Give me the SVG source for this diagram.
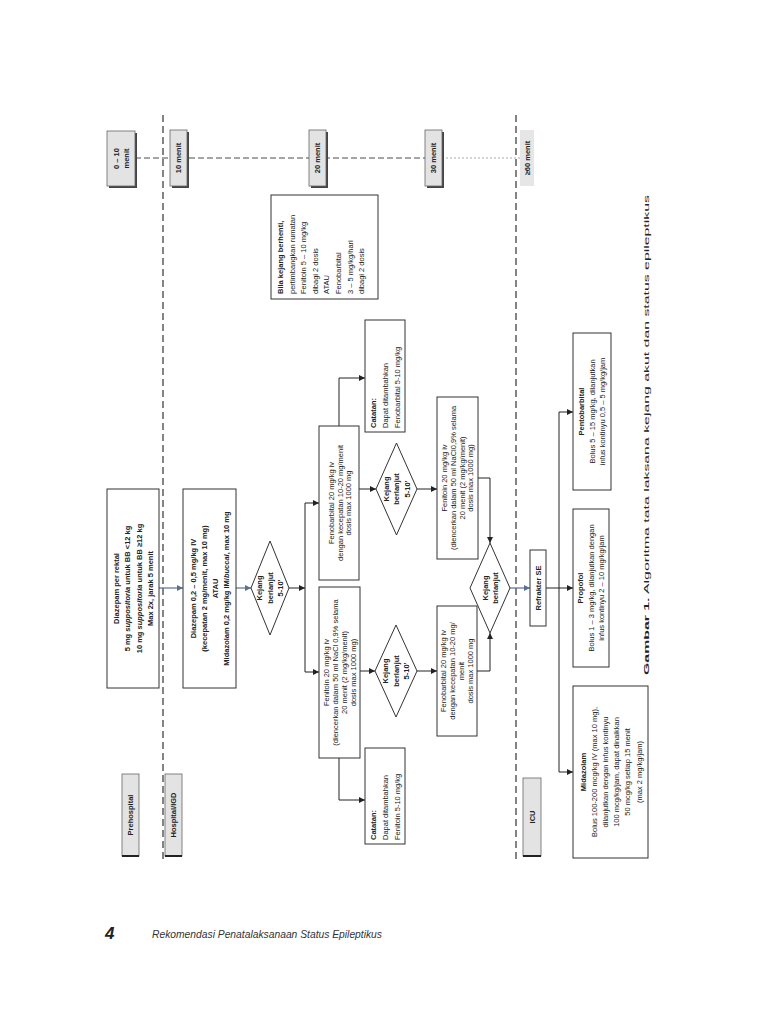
<svg xmlns="http://www.w3.org/2000/svg" width="768" height="1024" viewBox="0 0 768 1024">
<style>
.bx{fill:#fff;stroke:#333;stroke-width:1}
.lb{fill:#e3e3e3;stroke:#666;stroke-width:0.8}
.sh{fill:#444}
.t{font-family:"Liberation Sans",Arial,sans-serif;font-size:7.5px;fill:#222;text-anchor:middle}
.s{text-anchor:start}
.b{font-weight:bold}
.ln{stroke:#222;stroke-width:1;fill:none}
.bl{stroke:#5a7090;stroke-width:1.2;fill:none}
.dv{stroke:#333;stroke-width:1.2;stroke-dasharray:7 4;fill:none}
.dh{stroke:#888;stroke-width:1.6;stroke-dasharray:6 3;fill:none}
.dd{stroke:#aaa;stroke-width:1.2;stroke-dasharray:2 2;fill:none}
</style>
<defs>
<marker id="a" viewBox="0 0 8 8" refX="8" refY="4" markerWidth="6" markerHeight="6" markerUnits="userSpaceOnUse" orient="auto"><path d="M0,0 L8,4 L0,8 z" fill="#222"/></marker>
<marker id="ab" viewBox="0 0 8 8" refX="8" refY="4" markerWidth="6" markerHeight="6" markerUnits="userSpaceOnUse" orient="auto"><path d="M0,0 L8,4 L0,8 z" fill="#5a7090"/></marker>
</defs>
<rect width="768" height="1024" fill="#fff"/>

<g id="lanes">
<line class="dv" x1="163" y1="115" x2="163" y2="862"/>
<line class="dv" x1="516" y1="115" x2="516" y2="862"/>
<line class="dh" x1="135" y1="158" x2="425" y2="158"/>
<line class="dd" x1="442" y1="158" x2="520" y2="158"/>
</g>

<g id="connectors">
<line class="bl" x1="159" y1="588" x2="183" y2="588" marker-end="url(#ab)"/>
<line class="bl" x1="236" y1="588" x2="251" y2="588" marker-end="url(#ab)"/>
<line class="ln" x1="289" y1="588" x2="305" y2="588" marker-end="url(#a)"/>
<line class="ln" x1="305" y1="503" x2="305" y2="672"/>
<line class="ln" x1="305" y1="503" x2="319" y2="503" marker-end="url(#a)"/>
<line class="ln" x1="305" y1="672" x2="319" y2="672" marker-end="url(#a)"/>
<line class="ln" x1="359" y1="489" x2="376" y2="489" marker-end="url(#a)"/>
<line class="ln" x1="417" y1="489" x2="437" y2="489" marker-end="url(#a)"/>
<line class="ln" x1="360" y1="671" x2="375" y2="671" marker-end="url(#a)"/>
<line class="ln" x1="417" y1="671" x2="437" y2="671" marker-end="url(#a)"/>
<polyline class="ln" points="339,426 339,378 365,378" marker-end="url(#a)"/>
<polyline class="ln" points="339,758 339,800 365,800" marker-end="url(#a)"/>
<polyline class="ln" points="478,478 490,478 490,543" marker-end="url(#a)"/>
<polyline class="ln" points="477,671 490,671 490,633" marker-end="url(#a)"/>
<line class="bl" x1="510" y1="588" x2="530" y2="588" marker-end="url(#ab)"/>
<line class="ln" x1="546" y1="588" x2="559" y2="588" stroke-width="1.6"/>
<line class="ln" x1="559" y1="412" x2="559" y2="772" stroke-width="1.4"/>
<line class="ln" x1="559" y1="412" x2="573" y2="412" marker-end="url(#a)"/>
<line class="ln" x1="559" y1="588" x2="573" y2="588" marker-end="url(#a)"/>
<line class="ln" x1="559" y1="772" x2="573" y2="772" marker-end="url(#a)"/>
</g>

<g id="t0">
<rect class="sh" x="109" y="133" width="28" height="55"/>
<rect class="lb" x="107" y="131" width="28" height="55"/>
<text class="t b" font-size="8" transform="translate(121,158.5) rotate(-90)"><tspan x="0" y="-2.2">0 – 10</tspan><tspan x="0" y="7.8">menit</tspan></text>
</g>
<g id="t10">
<rect class="sh" x="172" y="132" width="17" height="56"/>
<rect class="lb" x="170" y="130" width="17" height="56"/>
<text class="t b" font-size="8" transform="translate(178.5,158) rotate(-90)" y="2.8">10 menit</text>
</g>
<g id="t20">
<rect class="sh" x="311" y="132" width="17" height="56"/>
<rect class="lb" x="309" y="130" width="17" height="56"/>
<text class="t b" font-size="8" transform="translate(317.5,158) rotate(-90)" y="2.8">20 menit</text>
</g>
<g id="t30">
<rect class="sh" x="427" y="132" width="17" height="56"/>
<rect class="lb" x="425" y="130" width="17" height="56"/>
<text class="t b" font-size="8" transform="translate(433.5,158) rotate(-90)" y="2.8">30 menit</text>
</g>
<g id="t60">
<rect x="520" y="130" width="14" height="56" fill="#e6e6e6"/>
<text class="t b" font-size="8" transform="translate(527,158) rotate(-90)" y="2.8">≥60 menit</text>
</g>

<g id="prehospital">
<rect class="lb" x="122" y="774" width="17" height="82"/>
<line x1="122" y1="856" x2="139" y2="856" stroke="#222" stroke-width="2"/>
<text class="t b" font-size="8" transform="translate(130.5,815) rotate(-90)" y="2.8">Prehospital</text>
</g>
<g id="hospital">
<rect class="lb" x="165" y="774" width="17" height="82"/>
<line x1="165" y1="856" x2="182" y2="856" stroke="#222" stroke-width="2"/>
<text class="t b" font-size="8" transform="translate(173.5,815) rotate(-90)" y="2.8">Hospital/IGD</text>
</g>
<g id="icu">
<rect class="lb" x="523" y="778" width="18" height="78" fill="#d0d0d0"/>
<line x1="523" y1="856" x2="541" y2="856" stroke="#222" stroke-width="2"/>
<text class="t b" font-size="8" transform="translate(532,817) rotate(-90)" y="2.8">ICU</text>
</g>

<g id="diazepam-rektal">
<rect class="bx" x="107" y="489" width="52" height="199"/>
<text class="t b" font-size="8.5" transform="translate(133,588.5) rotate(-90)"><tspan x="0" y="-13.8">Diazepam per rektal</tspan><tspan x="0" y="-2.6">5 mg <tspan font-style="italic">suppositoria</tspan> untuk BB &lt;12 kg</tspan><tspan x="0" y="8.6">10 mg <tspan font-style="italic">suppositoria</tspan> untuk BB ≥12 kg</tspan><tspan x="0" y="19.8">Max 2x, jarak 5 menit</tspan></text>
</g>

<g id="diazepam-iv">
<rect class="bx" x="183" y="489" width="53" height="199"/>
<text class="t b" font-size="8.3" transform="translate(209.5,588.5) rotate(-90)"><tspan x="0" y="-13.8">Diazepam 0,2 – 0,5 mg/kg IV</tspan><tspan x="0" y="-2.6">(kecepatan 2 mg/menit, max 10 mg)</tspan><tspan x="0" y="8.6">ATAU</tspan><tspan x="0" y="19.8">Midazolam 0,2 mg/kg IM/<tspan font-style="italic">buccal</tspan>, max 10 mg</tspan></text>
</g>

<g id="dec1">
<polygon class="bx" points="251,588 270,541 289,588 270,635"/>
<text class="t b" font-size="8" transform="translate(270,588) rotate(-90)"><tspan x="0" y="-7.7">Kejang</tspan><tspan x="0" y="2.8">berlanjut</tspan><tspan x="0" y="13.3">5-10'</tspan></text>
</g>

<g id="fenobarbital-1">
<rect class="bx" x="319" y="426" width="40" height="154"/>
<text class="t" transform="translate(340,503) rotate(-90)"><tspan x="0" y="-6.2">Fenobarbital 20 mg/kg iv</tspan><tspan x="0" y="2.6">dengan kecepatan 10-20 mg/menit</tspan><tspan x="0" y="11.4">dosis max 1000 mg</tspan></text>
</g>

<g id="fenitoin-1">
<rect class="bx" x="319" y="587" width="41" height="171"/>
<text class="t" transform="translate(340,672.5) rotate(-90)"><tspan x="0" y="-10.6">Fenitoin 20 mg/kg iv</tspan><tspan x="0" y="-1.8">(diencerkan dalam 50 ml NaCl 0,9% selama</tspan><tspan x="0" y="7">20 menit (2 mg/kg/menit)</tspan><tspan x="0" y="15.8">dosis max 1000 mg)</tspan></text>
</g>

<g id="catatan-fb">
<rect class="bx" x="365" y="320" width="40" height="112"/>
<text class="t s" font-size="8.5" transform="translate(385,428) rotate(-90)"><tspan class="b" x="0" y="-9">Catatan:</tspan><tspan x="0" y="3">Dapat ditambahkan</tspan><tspan x="0" y="15">Fenobarbital  5-10 mg/kg</tspan></text>
</g>

<g id="catatan-ft">
<rect class="bx" x="365" y="748" width="40" height="96"/>
<text class="t s" font-size="8.5" transform="translate(385,840) rotate(-90)"><tspan class="b" x="0" y="-9">Catatan:</tspan><tspan x="0" y="3">Dapat ditambahkan</tspan><tspan x="0" y="15">Fenitoin 5-10 mg/kg</tspan></text>
</g>

<g id="dec2a">
<polygon class="bx" points="376,489 396.5,443 417,489 396.5,535"/>
<text class="t b" font-size="8" transform="translate(396.5,489) rotate(-90)"><tspan x="0" y="-7.7">Kejang</tspan><tspan x="0" y="2.8">berlanjut</tspan><tspan x="0" y="13.3">5-10'</tspan></text>
</g>

<g id="dec2b">
<polygon class="bx" points="375,671 396,625 417,671 396,717"/>
<text class="t b" font-size="8" transform="translate(396,671) rotate(-90)"><tspan x="0" y="-7.7">Kejang</tspan><tspan x="0" y="2.8">berlanjut</tspan><tspan x="0" y="13.3">5-10'</tspan></text>
</g>

<g id="fenitoin-2">
<rect class="bx" x="437" y="397" width="41" height="162"/>
<text class="t" transform="translate(457.5,478) rotate(-90)"><tspan x="0" y="-10.6">Fenitoin 20 mg/kg iv</tspan><tspan x="0" y="-1.8">(diencerkan dalam 50 ml NaCl0,9% selama</tspan><tspan x="0" y="7">20 menit (2 mg/kg/menit)</tspan><tspan x="0" y="15.8">dosis max 1000 mg)</tspan></text>
</g>

<g id="fenobarbital-2">
<rect class="bx" x="437" y="606" width="40" height="130"/>
<text class="t" transform="translate(457,671) rotate(-90)"><tspan x="0" y="-10.6">Fenobarbital 20 mg/kg iv</tspan><tspan x="0" y="-1.8">dengan kecepatan 10-20 mg/</tspan><tspan x="0" y="7">menit</tspan><tspan x="0" y="15.8">dosis max 1000 mg</tspan></text>
</g>

<g id="dec3">
<polygon class="bx" points="470,588 490,543 510,588 490,633"/>
<text class="t b" font-size="8" transform="translate(490,588) rotate(-90)"><tspan x="0" y="-2.45">Kejang</tspan><tspan x="0" y="8.05">berlanjut</tspan></text>
</g>

<g id="refrakter">
<rect class="bx" x="530" y="550" width="16" height="76"/>
<text class="t b" font-size="8" transform="translate(538,588) rotate(-90)" y="2.8">Refrakter SE</text>
</g>

<g id="pentobarbital">
<rect class="bx" x="573" y="333" width="38" height="157"/>
<text class="t" font-size="8" transform="translate(592,411.5) rotate(-90)"><tspan class="b" x="0" y="-7.7">Pentobarbital</tspan><tspan x="0" y="2.8">Bolus 5 – 15 mg/kg, dilanjutkan</tspan><tspan x="0" y="13.3">infus kontinyu 0,5 – 5 mg/kg/jam</tspan></text>
</g>

<g id="propofol">
<rect class="bx" x="573" y="509" width="36" height="158"/>
<text class="t" font-size="8" transform="translate(591,588) rotate(-90)"><tspan class="b" x="0" y="-7.7">Propofol</tspan><tspan x="0" y="2.8">Bolus 1 – 3 mg/kg, dilanjutkan dengan</tspan><tspan x="0" y="13.3">infus kontinyu 2 – 10 mg/kg/jam</tspan></text>
</g>

<g id="midazolam">
<rect class="bx" x="573" y="686" width="75" height="172"/>
<text class="t" font-size="8.5" transform="translate(610.5,772) rotate(-90)"><tspan class="b" x="0" y="-25">Midazolam</tspan><tspan x="0" y="-13.8">Bolus 100-200 mcg/kg IV (max 10 mg),</tspan><tspan x="0" y="-2.6">dilanjutkan dengan infus kontinyu</tspan><tspan x="0" y="8.6">100 mcg/kg/jam, dapat dinaikkan</tspan><tspan x="0" y="19.8">50 mcg/kg setiap 15 menit</tspan><tspan x="0" y="31">(max 2 mg/kg/jam)</tspan></text>
</g>

<g id="bila">
<rect class="bx" x="271" y="195" width="107" height="104"/>
<text class="t s" font-size="9" transform="translate(320.5,294) rotate(-90)"><tspan class="b" x="0" y="-37.5">Bila kejang berhenti,</tspan><tspan x="0" y="-25.9">pertimbangkan rumatan</tspan><tspan x="0" y="-14.3">Fenitoin 5 – 10 mg/kg</tspan><tspan x="0" y="-2.7">dibagi 2 dosis</tspan><tspan x="0" y="8.9">ATAU</tspan><tspan x="0" y="20.5">Fenobarbital</tspan><tspan x="0" y="32.1">3 – 5 mg/kg/hari</tspan><tspan x="0" y="43.7">dibagi 2 dosis</tspan></text>
</g>

<g id="caption">
<text class="t s" font-size="17" fill="#222" transform="translate(649,675) rotate(-90)" textLength="480" lengthAdjust="spacingAndGlyphs"><tspan class="b">Gambar 1.</tspan> Algoritma tata laksana kejang akut dan status epileptikus</text>
</g>

<g id="footer">
<text x="105" y="939" font-family="Liberation Sans,Arial,sans-serif" font-size="17" font-weight="bold" font-style="italic" fill="#222">4</text>
<text x="152" y="938" font-family="Liberation Sans,Arial,sans-serif" font-size="11" font-style="italic" fill="#333" textLength="230" lengthAdjust="spacingAndGlyphs">Rekomendasi Penatalaksanaan Status Epileptikus</text>
</g>
</svg>
